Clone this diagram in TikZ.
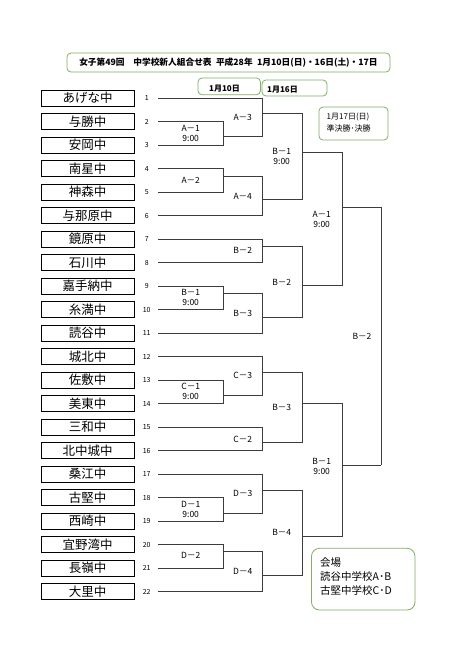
\documentclass[tikz,border=0pt]{standalone}
\usepackage{fontspec}
\newfontfamily\jp{Noto Sans CJK JP}
\definecolor{grn}{RGB}{130,175,100}
\definecolor{lncol}{RGB}{60,60,60}
\tikzset{
  team/.style={draw=black,line width=0.9pt,minimum width=93pt,minimum height=16pt,inner sep=0pt,font=\jp\fontsize{12.5}{12.5}\selectfont},
  num/.style={inner sep=0pt,font=\jp\fontsize{7}{7}\selectfont},
  ln/.style={draw=lncol,line width=0.9pt},
  lab/.style={inner sep=0pt,align=center,font=\jp\fontsize{8.5}{10}\selectfont},
  gbox/.style={draw=grn,line width=0.8pt,rounded corners=4pt},
}
\newcommand\brk[7]{\draw[ln] (#1,#2) -- (#5,#2) -- (#5,#4) -- (#3,#4); \draw[ln] (#5,#6) -- (#7,#6);}
\begin{document}
\begin{tikzpicture}[x=1pt,y=-1pt]
\useasboundingbox (0,0) rectangle (474,670);
\fill[white] (0,0) rectangle (474,670);
% title
\draw[gbox] (67,53) rectangle (390,72);
\node[inner sep=0pt,font=\jp\bfseries\fontsize{8.7}{10}\selectfont] (title) at (228.5,62.5) {女子第49回\quad 中学校新人組合せ表\enspace 平成28年\enspace 1月10日(日)・16日(土)・17日};
% date boxes
\draw[gbox] (198,78) rectangle (260.5,94.7);
\node[anchor=west,inner sep=0pt,font=\jp\bfseries\fontsize{8}{10}\selectfont] (d10) at (209,88.5) {1月10日};
\draw[gbox] (262,80) rectangle (327,96);
\node[anchor=west,inner sep=0pt,font=\jp\bfseries\fontsize{8}{10}\selectfont] (d16) at (267,90) {1月16日};
\draw[gbox] (319,107) rectangle (388,140);
\node[anchor=west,inner sep=0pt,align=left,font=\jp\fontsize{8}{11.5}\selectfont] (d17) at (326.5,122.5) {1月17日(日)\\準決勝･決勝};
% venue
\draw[gbox,rounded corners=8pt] (311.5,548.3) rectangle (415,610);
\node[anchor=west,inner sep=0pt,align=left,font=\jp\fontsize{10.5}{14}\selectfont] (venue) at (320,577) {会場\\読谷中学校A･B\\古堅中学校C･D};
% teams
\foreach \i/\y/\nm in {1/98/あげな中,2/121.6/与勝中,3/145/安岡中,4/168.5/南星中,5/192/神森中,6/215.6/与那原中,7/239/鏡原中,8/262.5/石川中,9/286/嘉手納中,10/309.5/糸満中,11/333/読谷中,12/356.6/城北中,13/380/佐敷中,14/403.5/美東中,15/427/三和中,16/450.5/北中城中,17/474/桑江中,18/497.5/古堅中,19/521/西崎中,20/544.5/宜野湾中,21/568/長嶺中,22/591.7/大里中}{
  \node[team] (t\i) at (87.5,\y) {\nm};
  \node[num] (n\i) at (146.7,\y) {\i};
}
% round 1
\brk{158}{121.6}{158}{145}{223}{136.7}{262}
\brk{158}{168.5}{158}{192}{223}{176.7}{262}
\brk{158}{286}{158}{309.5}{223}{293.3}{262}
\brk{158}{380}{158}{403.5}{223}{395.5}{262}
\brk{158}{497.5}{158}{521}{223}{513.3}{262}
\brk{158}{544.5}{158}{568}{223}{551.7}{262}
% round 2
\brk{158}{98}{223}{136.7}{262}{113.3}{302}
\brk{223}{176.7}{158}{215.6}{262}{199.3}{302}
\brk{158}{239}{158}{262.5}{262}{246.7}{302}
\brk{223}{293.3}{158}{333}{262}{317.3}{302}
\brk{158}{356.6}{223}{395.5}{262}{372.3}{302}
\brk{158}{427}{158}{450.5}{262}{442.3}{302}
\brk{158}{474}{223}{513.3}{262}{490}{302}
\brk{223}{551.7}{158}{591.7}{262}{575}{302}
% round 3
\brk{262}{113.3}{262}{199.3}{302}{152.3}{342}
\brk{262}{246.7}{262}{317.3}{302}{285.7}{342}
\brk{262}{372.3}{262}{442.3}{302}{403.3}{342}
\brk{262}{490}{262}{575}{302}{536.7}{342}
% semis
\brk{302}{152.3}{302}{285.7}{342}{207.3}{381}
\brk{302}{403.3}{302}{536.7}{342}{465}{381}
% final
\draw[ln] (381,207.3) -- (381,465);
% labels round 1
\node[lab] (lA1) at (190.7,133.3) {A－1\\9:00};
\node[lab] (lA2) at (190.7,180) {A－2};
\node[lab] (lB1) at (190.7,297.3) {B－1\\9:00};
\node[lab] (lC1) at (190.7,391) {C－1\\9:00};
\node[lab] (lD1) at (190.7,509) {D－1\\9:00};
\node[lab] (lD2) at (190.7,555.7) {D－2};
% labels round 2
\node[lab] (lA3) at (242.7,117.3) {A－3};
\node[lab] (lA4) at (242.7,196) {A－4};
\node[lab] (lB2) at (242.7,250.7) {B－2};
\node[lab] (lB3) at (242.7,313.3) {B－3};
\node[lab] (lC3) at (242.7,375.7) {C－3};
\node[lab] (lC2) at (242.7,439) {C－2};
\node[lab] (lD3) at (242.7,493.3) {D－3};
\node[lab] (lD4) at (242.7,571.7) {D－4};
% labels round 3
\node[lab] (rB1) at (281.7,156.7) {B－1\\9:00};
\node[lab] (rB2) at (281.7,282.3) {B－2};
\node[lab] (rB3) at (281.7,407.3) {B－3};
\node[lab] (rB4) at (281.7,532.7) {B－4};
% semis / final
\node[lab] (sA1) at (321.7,219.5) {A－1\\9:00};
\node[lab] (sB1) at (321.7,466) {B－1\\9:00};
\node[lab] (fB2) at (362,336.7) {B－2};
\end{tikzpicture}
\end{document}
